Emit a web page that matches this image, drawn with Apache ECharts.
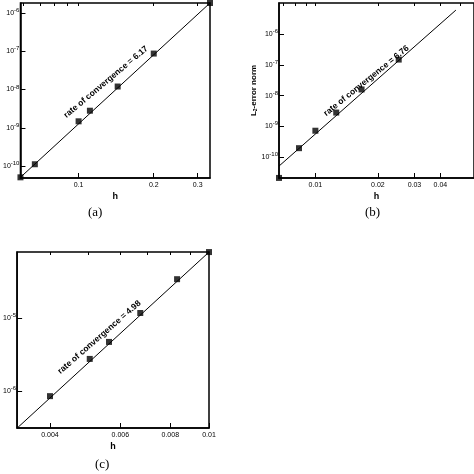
<!DOCTYPE html>
<html><head><meta charset="utf-8">
<script src="https://cdn.jsdelivr.net/npm/echarts@6/dist/echarts.min.js"></script>
<style>body{margin:0;background:#fff}#c{width:474px;height:474px}</style>
</head><body><div id="c"></div>
<script>
// panel (a)
var hA = [0.0585, 0.0668, 0.1, 0.111, 0.1434, 0.2, 0.336];
var errA = [5.1e-11, 1.12e-10, 1.48e-9, 2.8e-9, 1.2e-8, 8.7e-8, 1.82e-6];
var fitA_h = [0.0585, 0.336];
var fitA_e = [5.1e-11, 1.82e-6];
// panel (b)
var hB = [0.00668, 0.00834, 0.01, 0.0126, 0.01669, 0.0252];
var errB = [2.1e-11, 1.95e-10, 7.2e-10, 2.8e-9, 1.58e-8, 1.48e-7];
var fitB_h = [0.00668, 0.0475];
var fitB_e = [5.1e-11, 6.0e-6];
// panel (c)
var hC = [0.00331, 0.004, 0.00503, 0.00562, 0.00673, 0.00832, 0.01];
var errC = [3.1e-7, 8.5e-7, 2.75e-6, 4.7e-6, 1.17e-5, 3.4e-5, 8.0e-5];
var fitC_h = [0.00331, 0.01];
var fitC_e = [3.1e-7, 8.0e-5];
// tick labels
var xTicksA = [0.1, 0.2, 0.3];
var xTicksB = [0.01, 0.02, 0.03, 0.04];
var xTicksC = [0.004, 0.006, 0.008, 0.01];
var yTicksA = [-10, -9, -8, -7, -6];
var yTicksB = [-10, -9, -8, -7, -6];
var yTicksC = [-6, -5];

var L = Math.log10;
function pts(h, e) { return h.map(function (v, i) { return [L(v), L(e[i])]; }); }
function minorX(lo, hi) {
	var out = [];
	for (var d = -4; d < 1; d++) for (var k = 1; k < 10; k++) {
		var v = L(k) + d;
		if (v > lo && v < hi) out.push(v);
	}
	return out;
}
var rich = { s: { fontSize: 6, verticalAlign: 'top', padding: [0, 0, 5, 0] } };
function pow(v) { return '10{s|' + Math.round(v) + '}'; }
var axisLine = { lineStyle: { color: '#000', width: 1.5 } };

var panels = [
	{ grid: { left: 11, top: 3, width: 199, height: 175 }, x: [L(0.0585), L(0.336)], y: [-10.31, -5.74], xt: xTicksA, yt: yTicksA, h: hA, e: errA, fh: fitA_h, fe: fitA_e },
	{ grid: { left: 279, top: 3, width: 215, height: 175 }, x: [L(0.00668), -1.236], y: [-10.68, -4.99], xt: xTicksB, yt: yTicksB, h: hB, e: errB, fh: fitB_h, fe: fitB_e, yname: 'L{s2|2}-error norm' },
	{ grid: { left: 11, top: 252, width: 198, height: 176 }, x: [L(0.00331), L(0.01)], y: [-6.507, -4.096], xt: xTicksC, yt: yTicksC, h: hC, e: errC, fh: fitC_h, fe: fitC_e }
];

var option = { animation: false, grid: [], xAxis: [], yAxis: [], series: [], graphic: [] };
panels.forEach(function (p, i) {
	option.grid.push(Object.assign({ show: true, borderColor: '#000', borderWidth: 1.5, backgroundColor: 'transparent' }, p.grid));
	option.xAxis.push({
		type: 'value', gridIndex: i, min: p.x[0], max: p.x[1], name: 'h', nameLocation: 'middle', nameGap: 14,
		nameTextStyle: { fontWeight: 'bold', fontSize: 9, color: '#000' },
		axisLine: axisLine, splitLine: { show: false },
		axisTick: { inside: true, length: 5, customValues: p.xt.map(L), lineStyle: { color: '#000' } },
		axisLabel: { customValues: p.xt.map(L), formatter: function (v) { return String(+Math.pow(10, v).toPrecision(2)); }, fontSize: 7, color: '#000', margin: 4 }
	});
	option.yAxis.push({
		type: 'value', gridIndex: i, min: p.y[0], max: p.y[1],
		name: p.yname || '', nameLocation: 'middle', nameGap: 20,
		nameTextStyle: { fontWeight: 'bold', fontSize: 8, color: '#000', rich: { s2: { fontSize: 5, fontWeight: 'bold', verticalAlign: 'bottom' } } },
		axisLine: axisLine, splitLine: { show: false },
		axisTick: { inside: true, length: 5, customValues: p.yt, lineStyle: { color: '#000' } },
		axisLabel: { customValues: p.yt, formatter: pow, rich: rich, fontSize: 7, color: '#000', margin: 1 }
	});
	option.series.push({ type: 'line', xAxisIndex: i, yAxisIndex: i, data: pts(p.fh, p.fe), symbol: 'none', lineStyle: { color: '#000', width: 1 }, silent: true });
	option.series.push({ type: 'scatter', xAxisIndex: i, yAxisIndex: i, data: pts(p.h, p.e), symbol: 'rect', symbolSize: 6, itemStyle: { color: '#000' } });
});
// minor x ticks via extra hidden axes
panels.forEach(function (p, i) {
	option.xAxis.push({
		type: 'value', gridIndex: i, min: p.x[0], max: p.x[1], axisLine: { show: false }, axisLabel: { show: false }, splitLine: { show: false },
		axisTick: { inside: true, length: 3, customValues: minorX(p.x[0], p.x[1]), lineStyle: { color: '#000' } }
	});
});

var lab = { fontSize: 8.5, fontWeight: 'bold', fill: '#000', fontFamily: 'Liberation Sans' };
option.graphic = [
	{ type: 'text', x: 62, y: 113, rotation: 40 * Math.PI / 180, style: Object.assign({ text: 'rate of convergence = 6.17' }, lab) },
	{ type: 'text', x: 322, y: 111, rotation: 39 * Math.PI / 180, style: Object.assign({ text: 'rate of convergence = 6.76' }, lab) },
	{ type: 'text', x: 56, y: 369, rotation: 41 * Math.PI / 180, style: Object.assign({ text: 'rate of convergence = 4.98' }, lab) },
	{ type: 'text', x: 88, y: 206, style: { text: '(a)', fontSize: 13, fontFamily: 'Liberation Serif', fill: '#000' } },
	{ type: 'text', x: 365, y: 206, style: { text: '(b)', fontSize: 13, fontFamily: 'Liberation Serif', fill: '#000' } },
	{ type: 'text', x: 95, y: 458, style: { text: '(c)', fontSize: 13, fontFamily: 'Liberation Serif', fill: '#000' } }
];

var chart = echarts.init(document.getElementById('c'));
chart.setOption(option);
</script>
</body></html>
